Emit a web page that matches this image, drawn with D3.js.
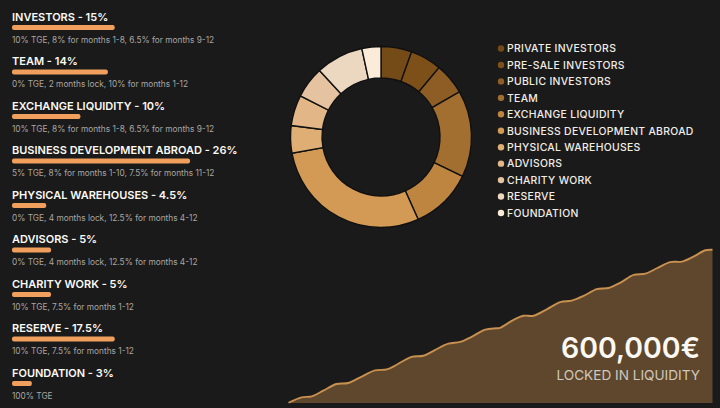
<!DOCTYPE html>
<html>
<head>
<meta charset="utf-8">
<script src="https://cdn.jsdelivr.net/npm/d3@7"></script>
<style>
  html, body { margin: 0; background: #1a1a1a; }
  svg { display: block; }
  .head { font: 600 11px "Inter", sans-serif; fill: #fbf9f5; }
  .sub { font: 400 8.3px "Inter", sans-serif; fill: #a9a7a4; }
  .legend-label { font: 500 10.4px "Inter", sans-serif; fill: #f2ede6; letter-spacing: 0.3px; }
</style>
</head>
<body>
<svg id="chart" width="720" height="408"></svg>
<script>
const width = 720;
const height = 408;

// vesting list on the left
const allocNames = ["INVESTORS - 15%", "TEAM - 14%", "EXCHANGE LIQUIDITY - 10%", "BUSINESS DEVELOPMENT ABROAD - 26%",
  "PHYSICAL WAREHOUSES - 4.5%", "ADVISORS - 5%", "CHARITY WORK - 5%", "RESERVE - 17.5%", "FOUNDATION - 3%"];
const allocNotes = ["10% TGE, 8% for months 1-8, 6.5% for months 9-12", "0% TGE, 2 months lock, 10% for months 1-12",
  "10% TGE, 8% for months 1-8, 6.5% for months 9-12", "5% TGE, 8% for months 1-10, 7.5% for months 11-12",
  "0% TGE, 4 months lock, 12.5% for months 4-12", "0% TGE, 4 months lock, 12.5% for months 4-12",
  "10% TGE, 7.5% for months 1-12", "10% TGE, 7.5% for months 1-12", "100% TGE"];
// bar lengths as drawn (the reserve bar is shorter than its label says)
const barValues = [15, 14, 10, 26, 5, 5.7, 5.7, 15, 2.9];

// donut
const sliceNames = ["PRIVATE INVESTORS", "PRE-SALE INVESTORS", "PUBLIC INVESTORS", "TEAM", "EXCHANGE LIQUIDITY",
  "BUSINESS DEVELOPMENT ABROAD", "PHYSICAL WAREHOUSES", "ADVISORS", "CHARITY WORK", "RESERVE", "FOUNDATION"];
const sliceValues = [5.5, 5.6, 5.6, 15.5, 11.1, 28.9, 4.9, 5.5, 5.6, 8.5, 3.4];
const sliceColors = ["#744a17", "#7e5019", "#8d5d25", "#a36f30", "#bd853f", "#d39a55",
  "#dfae75", "#e2b687", "#e5c3a0", "#ecd8c0", "#faecd9"];

// liquidity curve, x in % of the period, y in thousands of euro
const liquidityX = [0, 3.1, 5.5, 8.2, 11.3, 14.1, 16.8, 20.4, 23.2, 25.5, 29, 31.8, 34.5, 37.7, 40.5, 43.2, 46.4, 49.1, 49.9, 53,
  55.4, 57.8, 61, 64.1, 66.8, 69.6, 72.7, 75.5, 78.3, 81.4, 84.2, 86.9, 90, 92.8, 95.5, 98.3, 100];
const liquidityY = [1, 22, 26, 48, 74, 78, 99, 127, 131, 149, 180, 184, 206, 231, 238, 258, 286, 291, 293, 323,
  340, 340, 366, 393, 399, 417, 444, 448, 469, 499, 504, 525, 549, 551, 570, 595, 597];

const svg = d3.select("#chart");

// left list
const rowY = d3.scaleLinear().domain([0, 1]).range([0, 44.5]);
const barX = d3.scaleLinear().domain([0, 26]).range([0, 178]);

const rows = svg.append("g").selectAll("g")
  .data(allocNames)
  .join("g")
  .attr("transform", (d, i) => `translate(12,${rowY(i)})`);

rows.append("text")
  .attr("class", "head")
  .attr("y", 20.5)
  .text(d => d);

rows.append("rect")
  .attr("y", 25)
  .attr("height", 5)
  .attr("rx", 2)
  .attr("fill", "#f0a05c")
  .attr("width", (d, i) => barX(barValues[i]));

rows.append("text")
  .attr("class", "sub")
  .attr("y", 42.5)
  .text((d, i) => allocNotes[i]);

// donut
const pie = d3.pie().sort(null);
const arc = d3.arc().innerRadius(59).outerRadius(90.5);

svg.append("g")
  .attr("transform", "translate(381,137)")
  .selectAll("path")
  .data(pie(sliceValues))
  .join("path")
  .attr("d", arc)
  .attr("fill", (d, i) => sliceColors[i])
  .attr("stroke", "#111")
  .attr("stroke-width", 1.4);

// legend
const legendY = d3.scaleLinear().domain([0, 10]).range([48.5, 213]);
const legend = svg.append("g").selectAll("g")
  .data(sliceNames)
  .join("g")
  .attr("transform", (d, i) => `translate(501,${legendY(i)})`);

legend.append("circle")
  .attr("r", 3.2)
  .attr("fill", (d, i) => sliceColors[i]);

legend.append("text")
  .attr("class", "legend-label")
  .attr("x", 6)
  .attr("y", 3.8)
  .text(d => d);

// area
const x = d3.scaleLinear().domain([0, 100]).range([288.5, 712.5]);
const y = d3.scaleLinear().domain([0, 600]).range([403, 249]);
const points = liquidityX.map((d, i) => [d, liquidityY[i]]);

svg.append("path")
  .attr("fill", "#5e472d")
  .attr("d", d3.area()
    .x(d => x(d[0]))
    .y0(y(0))
    .y1(d => y(d[1]))
    .curve(d3.curveCatmullRom)(points));

svg.append("path")
  .attr("fill", "none")
  .attr("stroke", "#c8914f")
  .attr("stroke-width", 1.9)
  .attr("d", d3.line()
    .x(d => x(d[0]))
    .y(d => y(d[1]))
    .curve(d3.curveCatmullRom)(points));

svg.append("text")
  .attr("x", 700)
  .attr("y", 358)
  .attr("text-anchor", "end")
  .attr("fill", "#fbf8f3")
  .style("font", "600 28.5px Inter, sans-serif")
  .text("600,000€");

svg.append("text")
  .attr("x", 700)
  .attr("y", 380)
  .attr("text-anchor", "end")
  .attr("fill", "#cfc8bd")
  .style("font", "400 13.6px Inter, sans-serif")
  .text("LOCKED IN LIQUIDITY");
</script>
</body>
</html>
